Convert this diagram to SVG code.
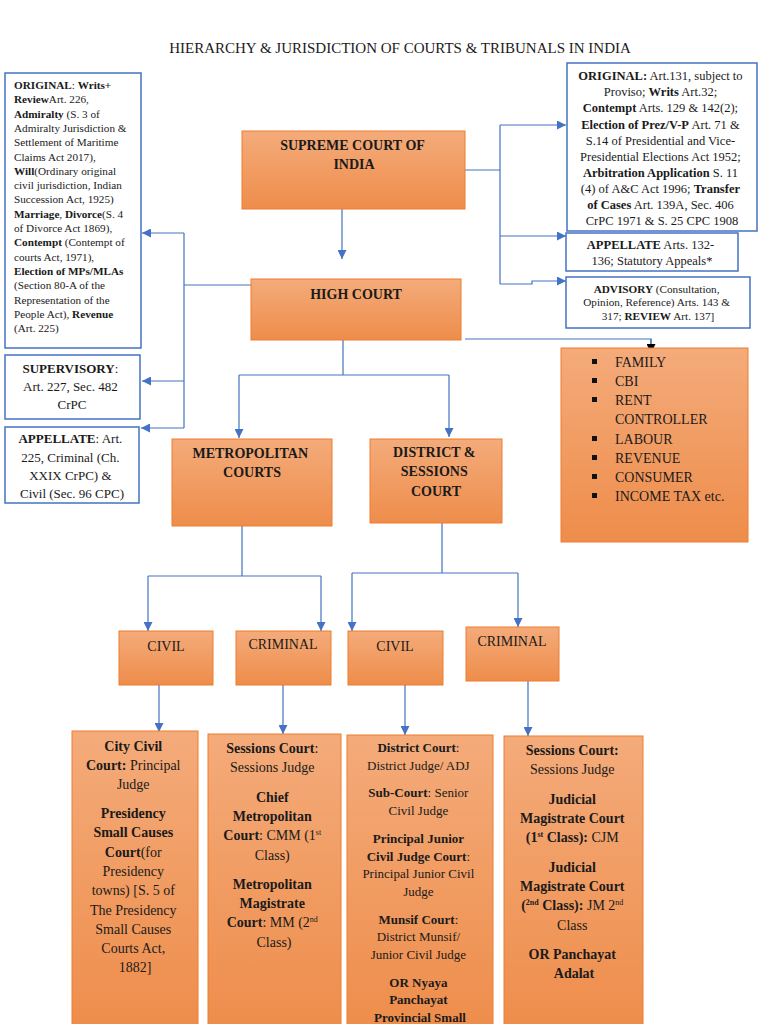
<svg xmlns="http://www.w3.org/2000/svg" width="768" height="1024" viewBox="0 0 768 1024">
<defs>
<linearGradient id="og" x1="0" y1="0" x2="0" y2="1">
<stop offset="0" stop-color="#F4AB7A"/>
<stop offset="1" stop-color="#EE8D4B"/>
</linearGradient>
<marker id="ab" viewBox="0 0 10 10" refX="10" refY="5" markerWidth="9" markerHeight="9" markerUnits="userSpaceOnUse" orient="auto">
<path d="M0,0 L10,5 L0,10 z" fill="#4472C4"/>
</marker>
<marker id="ak" viewBox="0 0 10 10" refX="10" refY="5" markerWidth="9" markerHeight="9" markerUnits="userSpaceOnUse" orient="auto">
<path d="M0,0 L10,5 L0,10 z" fill="#000"/>
</marker>
<style>
text{font-family:"Liberation Serif","Times New Roman",serif;fill:#1a1a1a}
.b{font-weight:bold}
.c{text-anchor:middle}
.o{fill:url(#og);stroke:#ED7D31;stroke-width:1}
.w{fill:#fff;stroke:#4472C4;stroke-width:1.5}
.k{stroke:#4472C4;stroke-width:1.2;fill:none}
.m{marker-end:url(#ab)}
.f11{font-size:11.2px}
.f12{font-size:12.5px}
.f13{font-size:13px}
.f14{font-size:14px}
.sup{font-size:8px}
</style>
</defs>
<rect width="768" height="1024" fill="#fff"/>
<text x="400" y="53" class="c" font-size="15">HIERARCHY &amp; JURISDICTION OF COURTS &amp; TRIBUNALS IN INDIA</text>

<g id="connectors">
<path class="k m" d="M342,209 V259"/>
<path class="k" d="M251,285 H184 M184,233 V428"/>
<path class="k m" d="M184,233 H142"/>
<path class="k m" d="M184,381 H142"/>
<path class="k m" d="M184,428 H141"/>
<path class="k" d="M343,323 V375 M239,375 H449"/>
<path class="k m" d="M239,375 V438"/>
<path class="k m" d="M449,375 V437"/>
<path class="k" d="M465,170 H500 M500,125 V284"/>
<path class="k m" d="M500,125 H566"/>
<path class="k m" d="M500,236 H566"/>
<path class="k m" d="M500,284 H532 V281 H566"/>
<path class="k" d="M465,339 H651 V344" />
<path d="M651,339 V353" stroke="#4472C4" stroke-width="1.2" fill="none" marker-end="url(#ak)"/>
<path class="k" d="M242,526 V576 M148,576 H321"/>
<path class="k m" d="M148,576 V631"/>
<path class="k m" d="M321,576 V631"/>
<path class="k" d="M442,523 V573 M352,573 H518"/>
<path class="k m" d="M352,573 V631"/>
<path class="k m" d="M518,573 V627"/>
<path class="k m" d="M159,685 V732"/>
<path class="k m" d="M283,685 V734"/>
<path class="k m" d="M405,685 V735"/>
<path class="k m" d="M528,681 V736"/>
</g>

<g id="hc-original">
<rect class="w" x="5" y="73" width="136" height="275"/>
<text class="f11">
<tspan x="14" y="89"><tspan class="b">ORIGINAL</tspan>: <tspan class="b">Writs+</tspan></tspan>
<tspan x="14" y="103.3"><tspan class="b">Review</tspan>Art. 226,</tspan>
<tspan x="14" y="117.6"><tspan class="b">Admiralty</tspan> (S. 3 of</tspan>
<tspan x="14" y="131.9">Admiralty Jurisdiction &amp;</tspan>
<tspan x="14" y="146.2">Settlement of Maritime</tspan>
<tspan x="14" y="160.5">Claims Act 2017),</tspan>
<tspan x="14" y="174.8"><tspan class="b">Will</tspan>(Ordinary original</tspan>
<tspan x="14" y="189.1">civil jurisdiction, Indian</tspan>
<tspan x="14" y="203.4">Succession Act, 1925)</tspan>
<tspan x="14" y="217.7"><tspan class="b">Marriage</tspan>, <tspan class="b">Divorce</tspan>(S. 4</tspan>
<tspan x="14" y="232">of Divorce Act 1869),</tspan>
<tspan x="14" y="246.3"><tspan class="b">Contempt</tspan> (Contempt of</tspan>
<tspan x="14" y="260.6">courts Act, 1971),</tspan>
<tspan x="14" y="274.9"><tspan class="b">Election of MPs/MLAs</tspan></tspan>
<tspan x="14" y="289.2">(Section 80-A of the</tspan>
<tspan x="14" y="303.5">Representation of the</tspan>
<tspan x="14" y="317.8">People Act), <tspan class="b">Revenue</tspan></tspan>
<tspan x="14" y="332.1">(Art. 225)</tspan>
</text>
</g>

<g id="hc-supervisory">
<rect class="w" x="5" y="355" width="135" height="64"/>
<text class="f13 c">
<tspan x="72" y="373"><tspan class="b">SUPERVISORY</tspan>:</tspan>
<tspan x="72" y="391">Art. 227, Sec. 482</tspan>
<tspan x="72" y="409">CrPC</tspan>
</text>
</g>

<g id="hc-appellate">
<rect class="w" x="5" y="427" width="134" height="76"/>
<text class="f13 c">
<tspan x="72" y="443"><tspan class="b">APPELLATE</tspan>: Art.</tspan>
<tspan x="72" y="462">225, Criminal (Ch.</tspan>
<tspan x="72" y="480">XXIX CrPC) &amp;</tspan>
<tspan x="72" y="498">Civil (Sec. 96 CPC)</tspan>
</text>
</g>

<g id="supreme-court">
<rect class="o" x="242" y="131" width="223" height="78"/>
<text class="f14 b c">
<tspan x="354" y="150">SUPREME COURT OF</tspan>
<tspan x="354" y="169">INDIA</tspan>
</text>
</g>

<g id="sc-original">
<rect class="w" x="567" y="63" width="190" height="168"/>
<text class="f12 c">
<tspan x="662" y="80"><tspan class="b">ORIGINAL:</tspan> Art.131, subject to</tspan>
<tspan x="662" y="96">Proviso; <tspan class="b">Writs</tspan> Art.32;</tspan>
<tspan x="662" y="112"><tspan class="b">Contempt</tspan> Arts. 129 &amp; 142(2);</tspan>
<tspan x="662" y="129"><tspan class="b">Election of Prez/V-P</tspan> Art. 71 &amp;</tspan>
<tspan x="662" y="145">S.14 of Presidential and Vice-</tspan>
<tspan x="662" y="161">Presidential Elections Act 1952;</tspan>
<tspan x="662" y="177"><tspan class="b">Arbitration Application</tspan> S. 11</tspan>
<tspan x="662" y="193">(4) of A&amp;C Act 1996; <tspan class="b">Transfer</tspan></tspan>
<tspan x="662" y="209"><tspan class="b">of Cases</tspan> Art. 139A, Sec. 406</tspan>
<tspan x="662" y="225">CrPC 1971 &amp; S. 25 CPC 1908</tspan>
</text>
</g>

<g id="sc-appellate">
<rect class="w" x="566" y="233" width="172" height="38"/>
<text class="f12 c">
<tspan x="652" y="249"><tspan class="b">APPELLATE</tspan> Arts. 132-</tspan>
<tspan x="652" y="265">136; Statutory Appeals*</tspan>
</text>
</g>

<g id="sc-advisory">
<rect class="w" x="566" y="277" width="184" height="51"/>
<text class="f11 c">
<tspan x="658" y="293"><tspan class="b">ADVISORY</tspan> (Consultation,</tspan>
<tspan x="658" y="306">Opinion, Reference) Arts. 143 &amp;</tspan>
<tspan x="658" y="320">317; <tspan class="b">REVIEW</tspan> Art. 137]</tspan>
</text>
</g>

<g id="high-court">
<rect class="o" x="251" y="279" width="210" height="61"/>
<text x="356" y="299" class="f14 b c">HIGH COURT</text>
</g>

<g id="tribunals">
<rect class="o" x="561" y="348" width="187" height="194"/>
<g fill="#111">
<rect x="592" y="359" width="5" height="5"/>
<rect x="592" y="378" width="5" height="5"/>
<rect x="592" y="397" width="5" height="5"/>
<rect x="592" y="436" width="5" height="5"/>
<rect x="592" y="455" width="5" height="5"/>
<rect x="592" y="474" width="5" height="5"/>
<rect x="592" y="493" width="5" height="5"/>
</g>
<text class="f14">
<tspan x="615" y="367">FAMILY</tspan>
<tspan x="615" y="386">CBI</tspan>
<tspan x="615" y="405">RENT</tspan>
<tspan x="615" y="424">CONTROLLER</tspan>
<tspan x="615" y="444">LABOUR</tspan>
<tspan x="615" y="463">REVENUE</tspan>
<tspan x="615" y="482">CONSUMER</tspan>
<tspan x="615" y="501">INCOME TAX etc.</tspan>
</text>
</g>

<g id="metropolitan">
<rect class="o" x="172" y="439" width="160" height="87"/>
<text class="f14 b c">
<tspan x="252" y="458">METROPOLITAN</tspan>
<tspan x="252" y="477">COURTS</tspan>
</text>
</g>

<g id="district">
<rect class="o" x="370" y="439" width="132" height="84"/>
<text class="f14 b c">
<tspan x="436" y="457">DISTRICT &amp;</tspan>
<tspan x="436" y="476">SESSIONS</tspan>
<tspan x="436" y="496">COURT</tspan>
</text>
</g>

<g id="metro-civil">
<rect class="o" x="119" y="631" width="94" height="54"/>
<text x="166" y="651" class="f14 c">CIVIL</text>
</g>
<g id="metro-criminal">
<rect class="o" x="236" y="631" width="95" height="54"/>
<text x="283" y="649" class="f14 c">CRIMINAL</text>
</g>
<g id="district-civil">
<rect class="o" x="348" y="631" width="95" height="54"/>
<text x="395" y="651" class="f14 c">CIVIL</text>
</g>
<g id="district-criminal">
<rect class="o" x="466" y="627" width="93" height="54"/>
<text x="512" y="646" class="f14 c">CRIMINAL</text>
</g>

<g id="metro-civil-courts">
<rect class="o" x="72" y="731" width="126" height="300"/>
<text class="f14 c">
<tspan x="135" y="751" class="b">City Civil</tspan>
<tspan x="135" y="770"><tspan class="b">Court:</tspan> Principal</tspan>
<tspan x="135" y="789">Judge</tspan>
<tspan x="135" y="818" class="b">Presidency</tspan>
<tspan x="135" y="837" class="b">Small Causes</tspan>
<tspan x="135" y="857"><tspan class="b">Court</tspan>(for</tspan>
<tspan x="135" y="876">Presidency</tspan>
<tspan x="135" y="895">towns) [S. 5 of</tspan>
<tspan x="135" y="915">The Presidency</tspan>
<tspan x="135" y="934">Small Causes</tspan>
<tspan x="135" y="953">Courts Act,</tspan>
<tspan x="135" y="972">1882]</tspan>
</text>
</g>

<g id="metro-criminal-courts">
<rect class="o" x="208" y="734" width="133" height="297"/>
<text class="f14 c">
<tspan x="274" y="753"><tspan class="b">Sessions Court</tspan>:</tspan>
<tspan x="274" y="772">Sessions Judge</tspan>
<tspan x="274" y="802" class="b">Chief</tspan>
<tspan x="274" y="821" class="b">Metropolitan</tspan>
<tspan x="274" y="840"><tspan class="b">Court</tspan>: CMM (1<tspan class="sup" dy="-5">st</tspan></tspan>
<tspan x="274" y="860">Class)</tspan>
<tspan x="274" y="889" class="b">Metropolitan</tspan>
<tspan x="274" y="908" class="b">Magistrate</tspan>
<tspan x="274" y="927"><tspan class="b">Court</tspan>: MM (2<tspan class="sup" dy="-5">nd</tspan></tspan>
<tspan x="274" y="947">Class)</tspan>
</text>
</g>

<g id="district-civil-courts">
<rect class="o" x="347" y="735" width="146" height="296"/>
<text class="f13 c">
<tspan x="420" y="752"><tspan class="b">District Court</tspan>:</tspan>
<tspan x="420" y="770">District Judge/ ADJ</tspan>
<tspan x="420" y="797"><tspan class="b">Sub-Court</tspan>: Senior</tspan>
<tspan x="420" y="815">Civil Judge</tspan>
<tspan x="420" y="843" class="b">Principal Junior</tspan>
<tspan x="420" y="861"><tspan class="b">Civil Judge Court</tspan>:</tspan>
<tspan x="420" y="878">Principal Junior Civil</tspan>
<tspan x="420" y="896">Judge</tspan>
<tspan x="420" y="924"><tspan class="b">Munsif Court</tspan>:</tspan>
<tspan x="420" y="941">District Munsif/</tspan>
<tspan x="420" y="959">Junior Civil Judge</tspan>
<tspan x="420" y="987" class="b">OR Nyaya</tspan>
<tspan x="420" y="1004" class="b">Panchayat</tspan>
<tspan x="420" y="1022" class="b">Provincial Small</tspan>
</text>
</g>

<g id="district-criminal-courts">
<rect class="o" x="504" y="736" width="139" height="295"/>
<text class="f14 c">
<tspan x="574" y="755"><tspan class="b">Sessions Court:</tspan></tspan>
<tspan x="574" y="774">Sessions Judge</tspan>
<tspan x="574" y="804" class="b">Judicial</tspan>
<tspan x="574" y="823" class="b">Magistrate Court</tspan>
<tspan x="574" y="842"><tspan class="b">(1<tspan class="sup" dy="-5">st</tspan><tspan dy="5"> Class):</tspan></tspan> CJM</tspan>
<tspan x="574" y="872" class="b">Judicial</tspan>
<tspan x="574" y="891" class="b">Magistrate Court</tspan>
<tspan x="574" y="910"><tspan class="b">(<tspan class="sup" dy="-5">2nd</tspan><tspan dy="5"> Class):</tspan></tspan> JM 2<tspan class="sup" dy="-5">nd</tspan></tspan>
<tspan x="574" y="930">Class</tspan>
<tspan x="574" y="959" class="b">OR Panchayat</tspan>
<tspan x="574" y="978" class="b">Adalat</tspan>
</text>
</g>
</svg>
